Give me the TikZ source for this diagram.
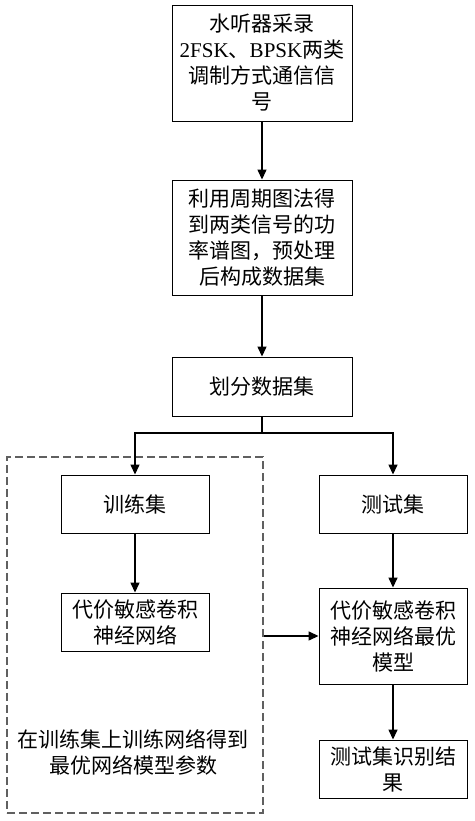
\documentclass[tikz,border=0pt]{standalone}
\usepackage{fontspec}
\setmainfont{Noto Sans CJK SC}
\newfontfamily\latinserif{Liberation Serif}
\usetikzlibrary{arrows.meta}
\begin{document}
\begin{tikzpicture}[x=1pt,y=1pt,
  box/.style={draw,line width=0.9pt,minimum width=148pt,minimum height=58pt,inner sep=0pt,align=center,
    font=\fontsize{21}{26}\selectfont},
  wide/.style={box,minimum width=180pt},
  arr/.style={line width=1.4pt,-{Triangle[length=10pt,width=9pt]}},
  ln/.style={line width=1.4pt}]
\useasboundingbox (0,0) rectangle (474,821);
\node[draw=gray!75!black,dashed,dash pattern=on 8pt off 4pt,line width=1.4pt,minimum width=256pt,minimum height=356pt,inner sep=0pt] (grp) at (135,186) {};
\node[wide,minimum height=116pt] (b1) at (262,758) {水听器采录\\{\latinserif 2FSK}、{\latinserif BPSK}两类\\调制方式通信信\\号};
\node[wide,minimum height=115pt] (b2) at (262,583.5) {利用周期图法得\\到两类信号的功\\率谱图，预处理\\后构成数据集};
\node[wide,minimum height=59pt] (b3) at (262,434.5) {划分数据集};
\node[box] (b4) at (135,317) {训练集};
\node[box] (b5) at (393,317) {测试集};
\node[box] (b6) at (135,199) {代价敏感卷积\\神经网络};
\node[box,minimum height=96pt] (b7) at (393,185) {代价敏感卷积\\神经网络最优\\模型};
\node[box] (b8) at (393,52) {测试集识别结\\果};
\node[align=center,font=\fontsize{21}{26}\selectfont] (lbl) at (133,69) {在训练集上训练网络得到\\最优网络模型参数};
\coordinate (br) at (262,388);
\draw[arr] (b1) -- (b2);
\draw[arr] (b2) -- (b3);
\draw[ln] (b3.south) -- (br);
\draw[arr] (br) -| (b4.north);
\draw[arr] (br) -| (b5.north);
\draw[arr] (b4) -- (b6);
\draw[arr] (b5) -- (b7);
\draw[arr] (b7) -- (b8);
\draw[arr] (grp.east |- b7.west) -- (b7.west);
\end{tikzpicture}
\end{document}
